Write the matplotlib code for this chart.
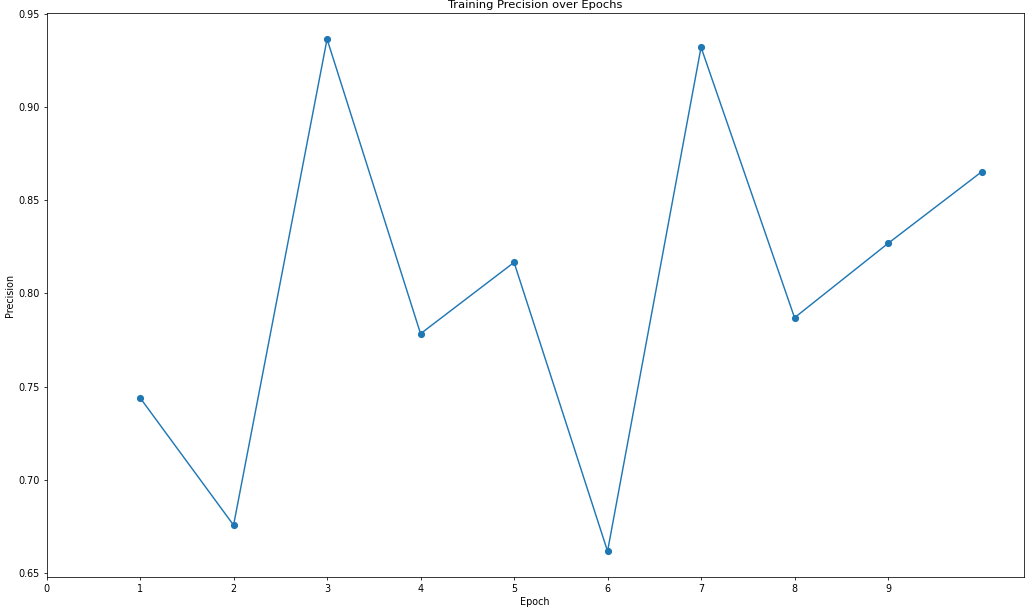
import matplotlib
matplotlib.use("Agg")
import matplotlib.pyplot as plt

epochs = [1, 2, 3, 4, 5, 6, 7, 8, 9, 10]
precision = [0.744, 0.6756, 0.9366, 0.7784, 0.8167, 0.6616, 0.9322, 0.787, 0.8269, 0.8653]
xtick_positions = list(range(10))

s = 0.69
fig = plt.figure(figsize=(10.35, 6.13), dpi=100)
ax = fig.add_axes([0.045, 0.059, 0.944, 0.919])
ax.plot(epochs, precision, marker='o', color='#1f77b4', linewidth=1.5 * s, markersize=6 * s)
ax.set_xticks(xtick_positions)
ax.set_title('Training Precision over Epochs', fontsize=12 * s, pad=6 * s)
ax.set_xlabel('Epoch', fontsize=10 * s, labelpad=4 * s)
ax.set_ylabel('Precision', fontsize=10 * s, labelpad=4 * s)
ax.tick_params(labelsize=10 * s, width=0.8 * s, length=3.5 * s, pad=3.5 * s)
for sp in ax.spines.values():
    sp.set_linewidth(0.8 * s)

fig.savefig('out.png', dpi=100)
